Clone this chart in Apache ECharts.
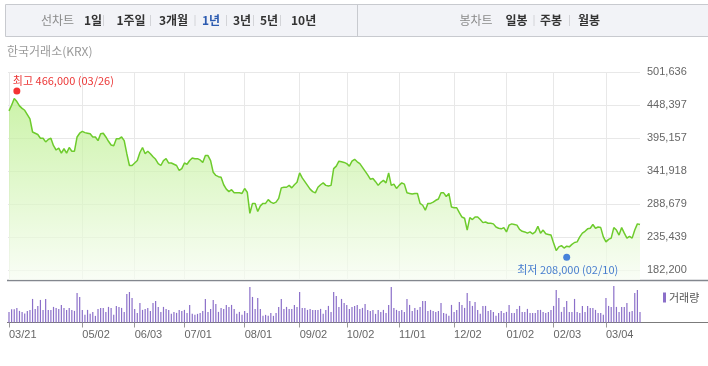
<!DOCTYPE html>
<html><head><meta charset="utf-8">
<script src="https://cdn.jsdelivr.net/npm/echarts@6/dist/echarts.min.js"></script>
<style>html,body{margin:0;padding:0;background:#fff}#c{width:708px;height:366px}</style>
</head><body><div id="c"></div>
<script>
// ---------- DATA ----------
const dates = [
'03/21','03/22','03/25','03/26','03/27','03/28','03/29',
'04/01','04/02','04/03','04/04','04/05','04/08','04/09','04/11','04/12','04/15','04/16','04/17','04/18','04/19','04/22','04/23','04/24','04/25','04/26','04/29','04/30',
'05/02','05/03','05/07','05/08','05/09','05/10','05/13','05/14','05/16','05/17','05/20','05/21','05/22','05/23','05/24','05/27','05/28','05/29','05/30','05/31',
'06/03','06/04','06/05','06/07','06/10','06/11','06/12','06/13','06/14','06/17','06/18','06/19','06/20','06/21','06/24','06/25','06/26','06/27','06/28',
'07/01','07/02','07/03','07/04','07/05','07/08','07/09','07/10','07/11','07/12','07/15','07/16','07/17','07/18','07/19','07/22','07/23','07/24','07/25','07/26','07/29','07/30','07/31',
'08/01','08/02','08/05','08/06','08/07','08/08','08/09','08/12','08/13','08/14','08/16','08/19','08/20','08/21','08/22','08/23','08/26','08/27','08/28','08/29','08/30',
'09/02','09/03','09/04','09/05','09/06','09/09','09/10','09/11','09/12','09/13','09/19','09/20','09/23','09/24','09/25','09/26','09/27','09/30',
'10/02','10/04','10/07','10/08','10/10','10/11','10/14','10/15','10/16','10/17','10/18','10/21','10/22','10/23','10/24','10/25','10/28','10/29','10/30','10/31',
'11/01','11/04','11/05','11/06','11/07','11/08','11/11','11/12','11/13','11/14','11/15','11/18','11/19','11/20','11/21','11/22','11/25','11/26','11/27','11/28','11/29',
'12/02','12/03','12/04','12/05','12/06','12/09','12/10','12/11','12/12','12/13','12/16','12/17','12/18','12/19','12/20','12/23','12/24','12/26','12/27','12/30',
'01/02','01/03','01/06','01/07','01/08','01/09','01/10','01/13','01/14','01/15','01/16','01/17','01/20','01/21','01/22','01/23','01/24','01/31',
'02/03','02/04','02/05','02/06','02/07','02/10','02/11','02/12','02/13','02/14','02/17','02/18','02/19','02/20','02/21','02/24','02/25','02/26','02/27','02/28',
'03/04','03/05','03/06','03/07','03/10','03/11','03/12','03/13','03/14','03/17','03/18','03/19','03/20','03/21'
];
const closePrices = [
439000,448000,459000,454000,447000,443000,440000,433000,426000,405000,
403000,401000,395000,395000,389000,393000,395000,383000,376000,379000,
371000,378000,371000,380000,374000,374000,397000,403000,406000,404000,
403000,402000,397000,397000,391000,402000,403000,397000,390000,384000,
383000,394000,394000,397000,391000,370000,351000,351000,355000,359000,
372000,380000,370000,374000,370000,365000,361000,354000,351000,359000,
362000,355000,355000,353000,351000,343000,346000,355000,353000,359000,
363000,362000,362000,360000,356000,367000,367000,359000,340000,335000,
333000,332000,320000,313000,309000,312000,307000,307000,307000,306000,
314000,308000,274000,290000,290000,277000,286000,290000,290000,296000,
292000,290000,292000,298000,315000,316000,316000,319000,315000,320000,
324000,339000,331000,325000,319000,313000,309000,307000,316000,320000,
323000,319000,318000,319000,346000,350000,358000,357000,356000,354000,
350000,358000,361000,357000,354000,348000,342000,336000,329000,330000,
325000,319000,324000,327000,323000,339000,319000,321000,314000,319000,
323000,321000,307000,306000,305000,306000,306000,290000,287000,279000,
290000,290000,292000,295000,297000,307000,307000,301000,306000,284000,
283000,283000,275000,268000,266000,247000,267000,264000,268000,268000,
264000,259000,260000,258000,258000,257000,252000,250000,249000,251000,
244000,255000,257000,256000,255000,248000,245000,244000,242000,244000,
241000,244000,253000,242000,247000,241000,240000,239000,226000,214000,
220000,222000,218000,221000,220000,224000,227000,228000,236000,242000,
245000,249000,250000,256000,250000,252000,251000,236000,228000,232000,
234000,251000,247000,239000,251000,242000,234000,237000,234000,247000,
257000,256000
];
const volumes = [
32,40,40,44,35,32,27,35,38,71,
41,50,68,38,71,38,38,47,44,41,
53,44,38,44,38,35,89,77,38,23,
38,26,32,20,41,44,44,32,47,44,
23,50,47,44,32,86,92,74,41,29,
59,38,41,44,35,59,65,47,32,47,
41,38,26,32,29,38,35,38,29,53,
26,23,26,29,35,71,32,41,68,56,
32,44,41,53,47,53,41,26,32,23,
35,29,107,77,41,74,41,20,23,20,
29,20,29,47,71,41,47,41,41,53,
47,92,44,44,38,41,38,38,38,41,
26,38,50,32,92,80,47,71,59,53,
41,47,50,53,41,44,56,38,35,38,
26,38,32,38,29,53,107,44,38,35,
38,32,71,53,35,44,38,47,65,65,
35,38,35,32,35,59,29,26,20,53,
32,38,62,53,44,89,65,50,62,38,
26,50,50,35,38,32,20,29,35,29,
32,53,29,29,41,50,32,32,41,29,
29,29,38,38,32,29,32,38,50,98,
74,32,47,65,32,32,71,32,29,50,
32,50,44,44,38,29,29,23,74,50,
47,110,47,32,47,47,59,32,35,89,
98,32
];
const dateTickLabels = ['03/21','05/02','06/03','07/01','08/01','09/02','10/02','11/01','12/02','01/02','02/03','03/04'];
const priceTickLabels = ['182,200','235,439','288,679','341,918','395,157','448,397','501,636'];
const highPoint = ['03/26', 466000];
const lowPoint = ['02/10', 208000];
const highLabel = '최고 466,000 (03/26)';
const lowLabel = '최저 208,000 (02/10)';
const periodButtons = ['1일','1주일','3개월','1년','3년','5년','10년'];
const candleButtons = ['일봉','주봉','월봉'];

// ---------- CHART ----------
const KR = '"Noto Sans CJK KR", "Noto Sans", sans-serif';
const NUM = '"Liberation Sans", Arial, sans-serif';
const tickSet = new Set(dateTickLabels.map(d => dates.indexOf(d)));
const isTick = (i) => tickSet.has(i);

const chart = echarts.init(document.getElementById('c'), null, {renderer: 'canvas'});

const periodX = [84, 116.5, 159, 202, 233, 260, 291];
const periodSep = [103, 150, 194.5, 226, 253, 280];
const candleX = [505.5, 540, 578];
const candleSep = [533.5, 569];

const graphics = [
  {type: 'rect', silent: true, shape: {x: 5.5, y: 4.5, width: 703, height: 32}, style: {fill: '#f2f3f7', stroke: '#c8cacf', lineWidth: 1}},
  {type: 'line', silent: true, shape: {x1: 357.5, y1: 5, x2: 357.5, y2: 36}, style: {stroke: '#c8cacf', lineWidth: 1}},
  {type: 'text', silent: true, x: 41, y: 20, style: {text: '선차트', fill: '#8a8a8a', font: '12px ' + KR, textVerticalAlign: 'middle'}},
  {type: 'text', silent: true, x: 459.5, y: 20, style: {text: '봉차트', fill: '#8a8a8a', font: '12px ' + KR, textVerticalAlign: 'middle'}},
  {type: 'text', silent: true, x: 7, y: 51.5, style: {text: '한국거래소(KRX)', fill: '#9a9a9a', font: '12px ' + KR, textVerticalAlign: 'middle'}},
  {type: 'line', silent: true, shape: {x1: 7, y1: 280.5, x2: 708, y2: 280.5}, style: {stroke: '#83878e', lineWidth: 1.6}},
  {type: 'line', silent: true, shape: {x1: 7, y1: 322.5, x2: 708, y2: 322.5}, style: {stroke: '#7b7b7b', lineWidth: 1}}
];
periodButtons.forEach((t, i) => graphics.push({type: 'text', silent: true, x: periodX[i], y: 20,
  style: {text: t, fill: t === '1년' ? '#2c5bb0' : '#333', font: 'bold 12px ' + KR, textVerticalAlign: 'middle'}}));
periodSep.forEach(x => graphics.push({type: 'line', silent: true, shape: {x1: x + 0.5, y1: 15, x2: x + 0.5, y2: 26}, style: {stroke: '#d3d4d8', lineWidth: 1}}));
candleButtons.forEach((t, i) => graphics.push({type: 'text', silent: true, x: candleX[i], y: 20,
  style: {text: t, fill: '#333', font: 'bold 12px ' + KR, textVerticalAlign: 'middle'}}));
candleSep.forEach(x => graphics.push({type: 'line', silent: true, shape: {x1: x + 0.5, y1: 15, x2: x + 0.5, y2: 26}, style: {stroke: '#d3d4d8', lineWidth: 1}}));

const option = {
  animation: false,
  backgroundColor: '#fff',
  graphic: graphics,
  legend: {
    data: ['거래량'], left: 658, top: 287, icon: 'rect', itemWidth: 3, itemHeight: 10, itemGap: 3,
    textStyle: {color: '#555', fontSize: 11, fontFamily: KR, padding: [0, 0, 0, -2]}
  },
  grid: [
    {left: 9, right: 68, top: 72, height: 208},
    {left: 9, right: 68, top: 285, height: 37.5},
    {left: 8, right: 68, top: 72, height: 198.3}
  ],
  xAxis: [
    {type: 'category', gridIndex: 0, data: dates, boundaryGap: false,
     axisLine: {show: false}, axisTick: {show: false}, axisLabel: {show: false},
     splitLine: {show: true, interval: (i) => isTick(i), lineStyle: {color: '#e8e8e8', width: 1}}},
    {type: 'category', gridIndex: 1, data: dates, boundaryGap: false,
     axisLine: {show: false},
     axisTick: {show: true, interval: (i) => isTick(i), length: 5, lineStyle: {color: '#999'}},
     axisLabel: {show: true, interval: (i) => isTick(i), color: '#666', fontSize: 11, fontFamily: NUM, align: 'left', margin: 7},
     splitLine: {show: false}},
    {type: 'value', gridIndex: 2, min: 0, max: 1, show: false}
  ],
  yAxis: [
    {type: 'value', gridIndex: 0, min: 166574, max: 501636, show: false, splitLine: {show: false}},
    {type: 'value', gridIndex: 1, min: 0, max: 113, show: false, splitLine: {show: false}},
    {type: 'value', gridIndex: 2, min: 0, max: 6, interval: 1, position: 'right',
     axisLine: {show: false}, axisTick: {show: false},
     axisLabel: {formatter: (v) => priceTickLabels[v] || '', color: '#666', fontSize: 11, fontFamily: NUM, margin: 7},
     splitLine: {show: true, lineStyle: {color: '#e8e8e8', width: 1}}}
  ],
  series: [
    {name: '가격', type: 'line', xAxisIndex: 0, yAxisIndex: 0, data: closePrices, symbol: 'none', smooth: false,
     lineStyle: {color: '#6dcb2c', width: 1.5},
     areaStyle: {origin: 'start', color: new echarts.graphic.LinearGradient(0, 0, 0, 1, [
       {offset: 0, color: '#b6ee85'}, {offset: 1, color: '#f7fdf2'}])},
     z: 3},
    {name: '거래량', type: 'bar', xAxisIndex: 1, yAxisIndex: 1, data: volumes, barWidth: 1.2,
     itemStyle: {color: '#8b6fc9'}},
    {name: 'high', type: 'scatter', xAxisIndex: 0, yAxisIndex: 0, data: [highPoint], symbolSize: 7,
     symbolOffset: [0, -3], itemStyle: {color: '#f20000'}, z: 5,
     label: {show: true, formatter: highLabel, position: 'top', distance: 1, align: 'left', offset: [-4, 0],
       color: '#e60000', fontSize: 11, fontFamily: KR}},
    {name: 'low', type: 'scatter', xAxisIndex: 0, yAxisIndex: 0, data: [lowPoint], symbolSize: 7,
     symbolOffset: [0, 3], itemStyle: {color: '#1b63d6'}, z: 5,
     label: {show: true, formatter: lowLabel, position: 'bottom', distance: 1, offset: [1, 3],
       color: '#1a5cc6', fontSize: 11, fontFamily: KR}}
  ]
};
chart.setOption(option);
</script></body></html>
